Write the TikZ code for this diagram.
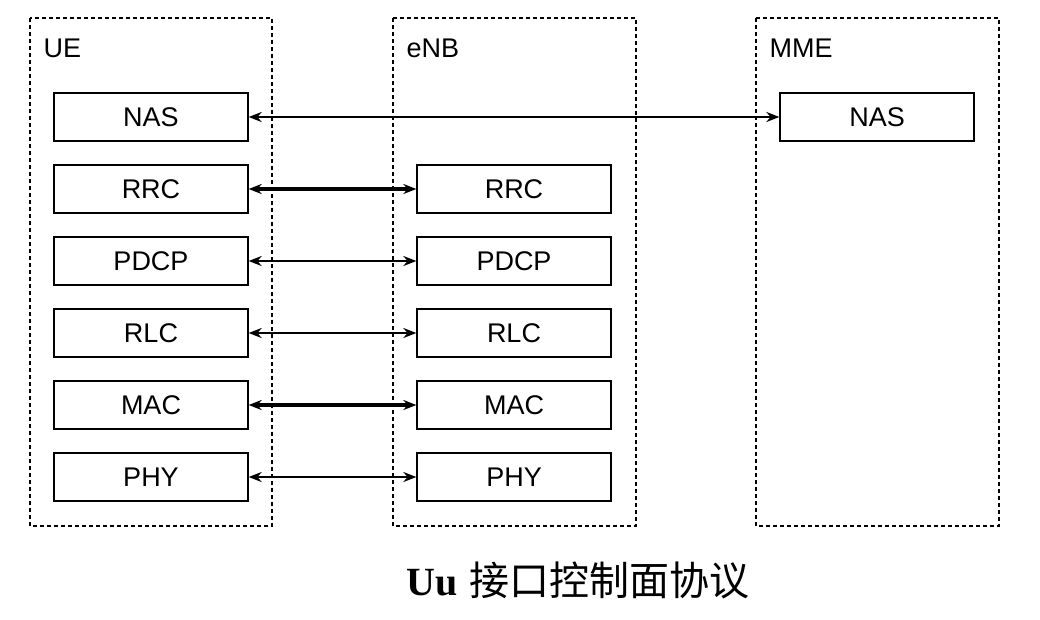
\documentclass[tikz,border=0pt]{standalone}
\usepackage{fontspec}
\setmainfont{Liberation Sans}
\newfontfamily\cjk{Noto Sans CJK SC}
\newfontfamily\capser{Liberation Serif}
\usetikzlibrary{arrows.meta}
\begin{document}
\begin{tikzpicture}[x=1pt,y=-1pt,
  grp/.style={draw,dash pattern=on 4pt off 3pt,line width=1.2pt},
  lay/.style={draw,line width=1.3pt,minimum width=194pt,minimum height=48pt,inner sep=0pt,font=\fontsize{27}{27}\selectfont},
  lbl/.style={anchor=west,font=\fontsize{27}{27}\selectfont},
  con/.style={{Stealth[length=13pt,width=10pt]}-{Stealth[length=13pt,width=10pt]},line width=2.2pt},
  thk/.style={con,line width=3.4pt}]
\useasboundingbox (0,0) rectangle (1040,619);
\draw[grp] (30,18) rectangle (272,526);
\draw[grp] (393,18) rectangle (636,526);
\draw[grp] (756,18) rectangle (999,526);
\node[lbl] (lue) at (40,48) {UE};
\node[lbl] (lenb) at (403,48) {eNB};
\node[lbl] (lmme) at (766,48) {MME};
\node[lay] (unas) at (151,117) {NAS};
\node[lay] (mnas) at (877,117) {NAS};
\node[lay] (urrc) at (151,189) {RRC};
\node[lay] (errc) at (514,189) {RRC};
\node[lay] (updcp) at (151,261) {PDCP};
\node[lay] (epdcp) at (514,261) {PDCP};
\node[lay] (urlc) at (151,333) {RLC};
\node[lay] (erlc) at (514,333) {RLC};
\node[lay] (umac) at (151,405) {MAC};
\node[lay] (emac) at (514,405) {MAC};
\node[lay] (uphy) at (151,477) {PHY};
\node[lay] (ephy) at (514,477) {PHY};
\draw[con] (unas) -- (mnas);
\draw[thk] (urrc) -- (errc);
\draw[con] (updcp) -- (epdcp);
\draw[con] (urlc) -- (erlc);
\draw[thk] (umac) -- (emac);
\draw[con] (uphy) -- (ephy);
\node (cap) at (578,580) {\fontsize{40}{40}\selectfont{\capser\bfseries Uu} {\cjk 接口控制面协议}};
\end{tikzpicture}
\end{document}
